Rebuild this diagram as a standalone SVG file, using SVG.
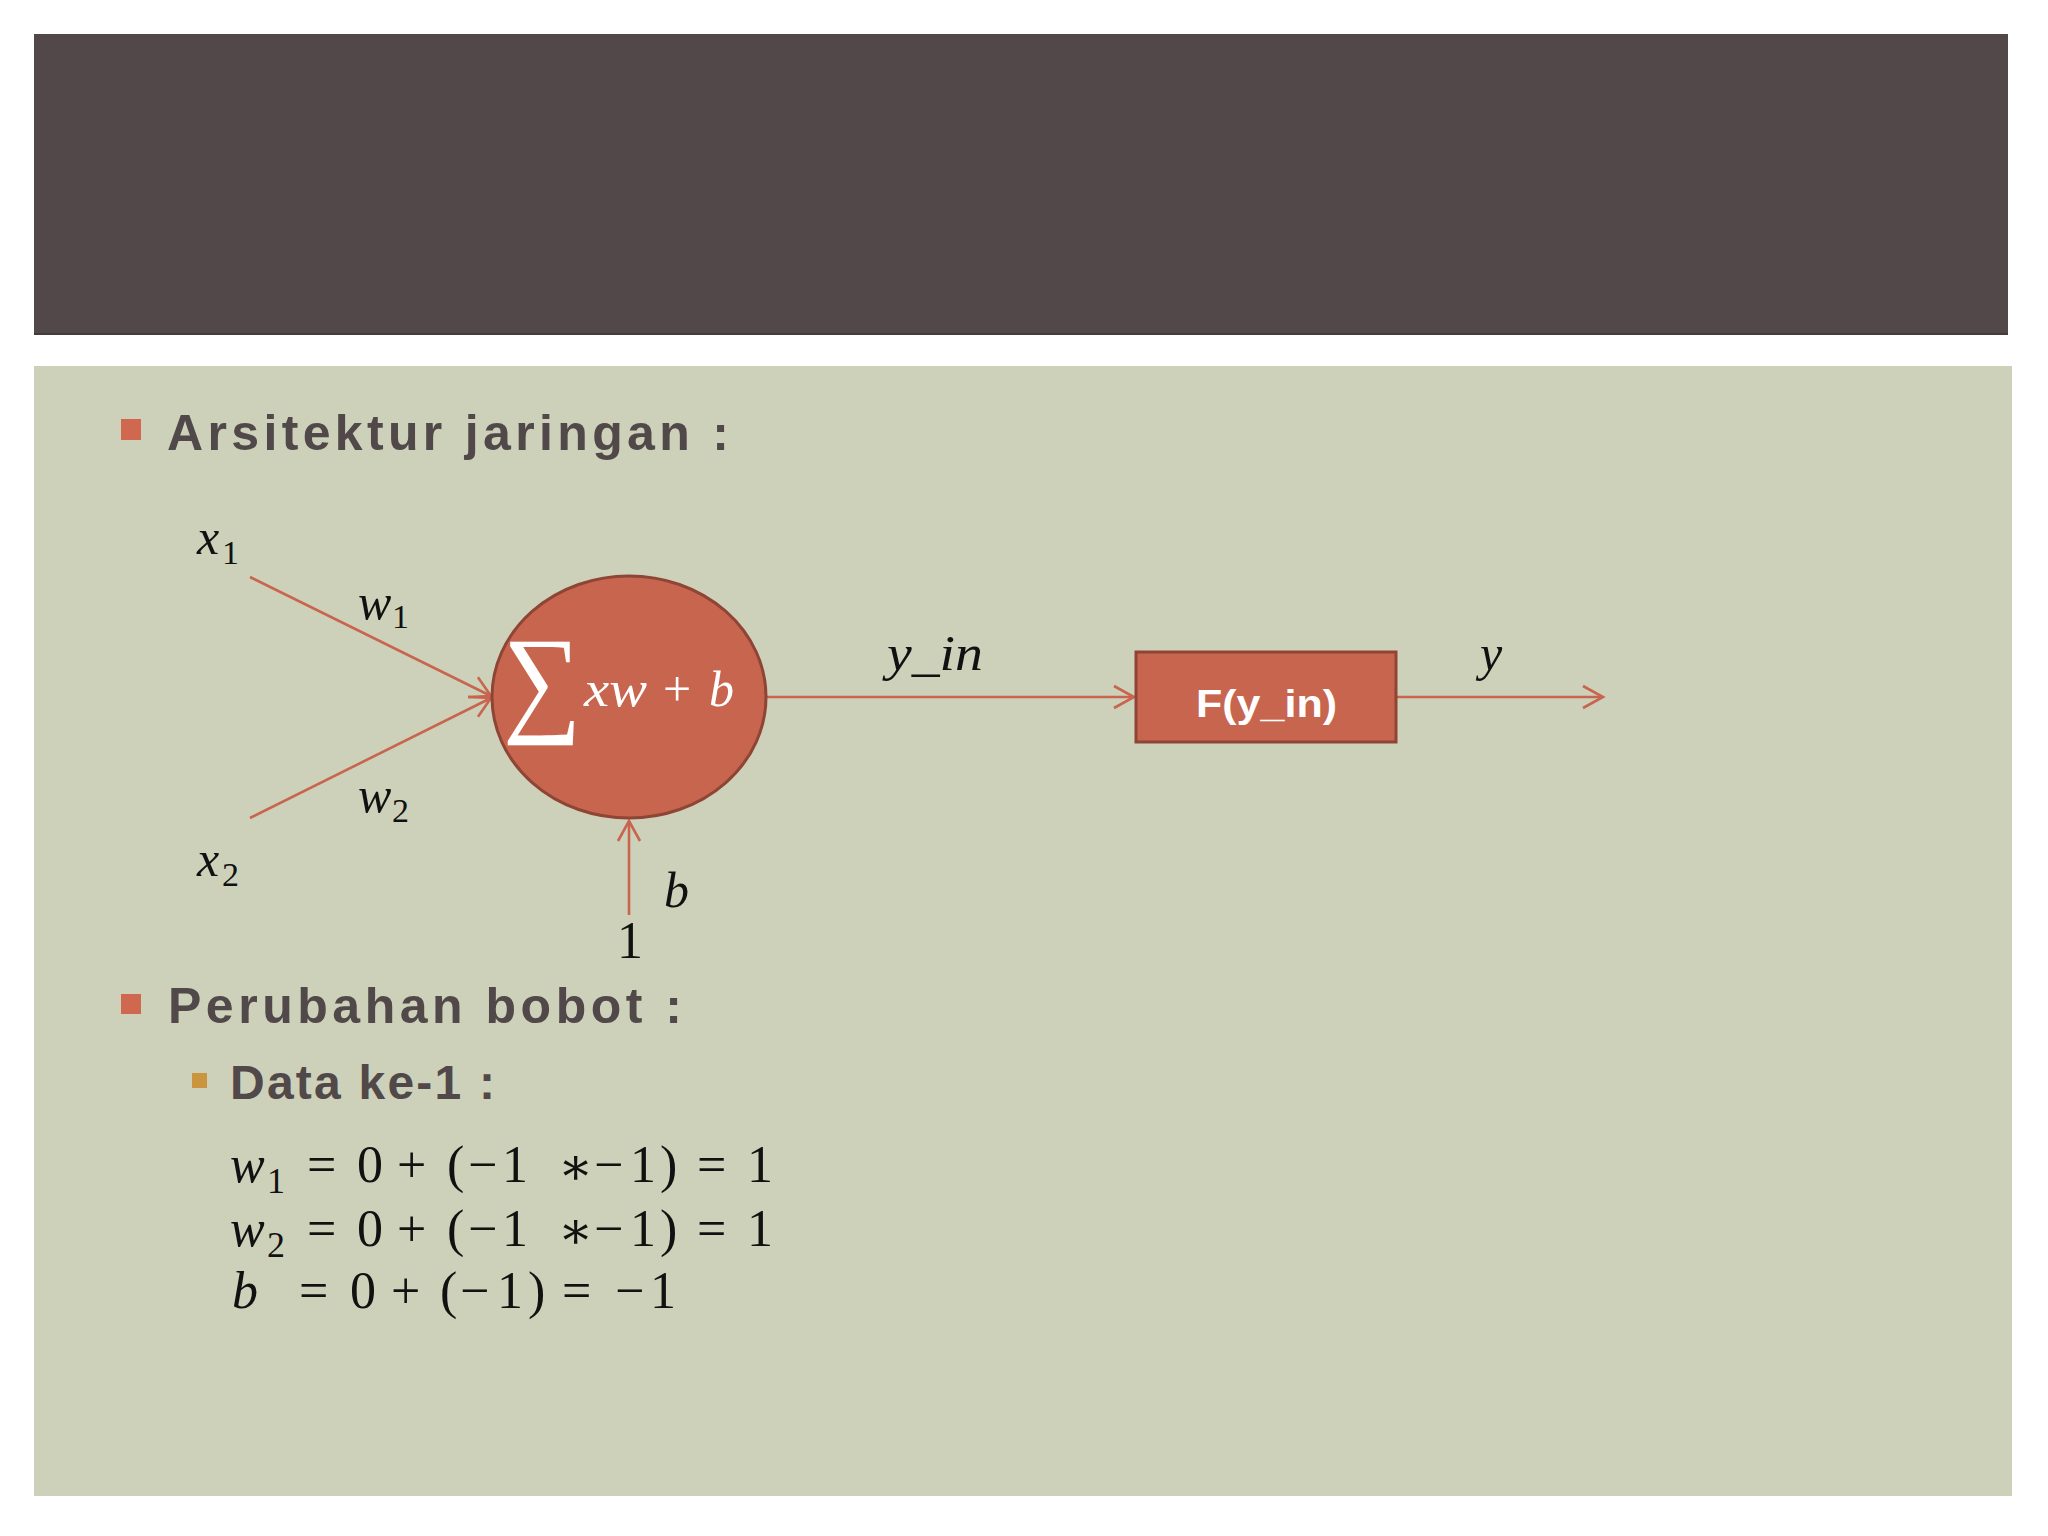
<svg xmlns="http://www.w3.org/2000/svg" width="2048" height="1536" viewBox="0 0 2048 1536">
<style>
.head{font-family:'Liberation Sans Narrow','Liberation Sans',sans-serif;fill:#514849;font-weight:bold}
.m{font-family:'Liberation Serif','DejaVu Serif',serif;fill:#111}
.mi{font-style:italic}
.w{fill:#fff}
.conn{stroke:#C8654F;stroke-width:2.6;fill:none}
</style>
<defs>
<marker id="arr" markerUnits="userSpaceOnUse" markerWidth="26" markerHeight="28" viewBox="-23 -14 26 28" refX="0" refY="0" orient="auto">
<path d="M-20,-11 L0,0 L-20,11" fill="none" stroke="#C8654F" stroke-width="2.6"/>
</marker>
</defs>
<rect x="0" y="0" width="2048" height="1536" fill="#ffffff"/>
<rect x="34" y="34" width="1974" height="301" fill="#524849"/>
<rect x="34" y="333" width="1974" height="2" fill="#443b3c"/>
<rect x="34" y="366" width="1978" height="1130" fill="#CED1B9"/>

<g id="bullet1">
<rect x="121" y="419" width="20" height="21" fill="#D0674F"/>
<text class="head" x="167" y="450" font-size="50" textLength="562" lengthAdjust="spacing">Arsitektur jaringan :</text>
</g>

<g id="connectors">
<line class="conn" x1="250" y1="577" x2="491" y2="696" marker-end="url(#arr)"/>
<line class="conn" x1="250" y1="818" x2="491" y2="698" marker-end="url(#arr)"/>
<line class="conn" x1="629" y1="915" x2="629" y2="821" marker-end="url(#arr)"/>
<line class="conn" x1="767" y1="697" x2="1134" y2="697" marker-end="url(#arr)"/>
<line class="conn" x1="1396" y1="697" x2="1603" y2="697" marker-end="url(#arr)"/>
</g>

<g id="labels">
<text class="m mi" x="197" y="554" font-size="50">x</text>
<text class="m" x="222" y="564" font-size="34">1</text>
<text class="m mi" x="358" y="619" font-size="50">w</text>
<text class="m" x="392" y="628" font-size="34">1</text>
<text class="m mi" x="358" y="812" font-size="50">w</text>
<text class="m" x="392" y="822" font-size="34">2</text>
<text class="m mi" x="197" y="876" font-size="50">x</text>
<text class="m" x="222" y="886" font-size="34">2</text>
<text class="m mi" x="664" y="907" font-size="50">b</text>
<text class="m" x="617" y="958" font-size="52">1</text>
<text class="m mi" x="887" y="670" font-size="50" textLength="96" lengthAdjust="spacingAndGlyphs">y_in</text>
<text class="m mi" x="1480" y="670" font-size="50">y</text>
</g>

<g id="node-sum">
<ellipse cx="629" cy="697" rx="137" ry="121" fill="#C8654F" stroke="#8F4535" stroke-width="3"/>
<text class="m w" x="0" y="0" font-size="120" transform="translate(503 720) scale(0.92 1)">∑</text>
<text class="m w mi" x="584" y="706" font-size="50" textLength="63" lengthAdjust="spacingAndGlyphs">xw</text>
<text class="m w" x="663" y="706" font-size="50">+</text>
<text class="m w mi" x="709" y="706" font-size="50">b</text>
</g>

<g id="node-f">
<rect x="1136" y="652" width="260" height="90" fill="#C8654F" stroke="#8F4535" stroke-width="3"/>
<text x="1196" y="717" font-family="'Liberation Sans Narrow','Liberation Sans',sans-serif" font-weight="bold" font-size="38" fill="#fff" textLength="141" lengthAdjust="spacingAndGlyphs">F(y_in)</text>
</g>

<g id="bullet2">
<rect x="121" y="994" width="20" height="20" fill="#D0674F"/>
<text class="head" x="168" y="1023" font-size="50" textLength="514" lengthAdjust="spacing">Perubahan bobot :</text>
<rect x="192" y="1073" width="15" height="15" fill="#C9953F"/>
<text class="head" x="230" y="1099" font-size="48" textLength="265" lengthAdjust="spacing">Data ke-1 :</text>
</g>

<g id="equations" class="m" font-size="52">
<text class="mi" x="230" y="1182">w</text>
<text x="267" y="1193" font-size="36">1</text>
<text x="307" y="1182">=</text>
<text x="357" y="1182">0</text>
<text x="397" y="1182">+</text>
<text x="447" y="1182">(</text>
<text x="468" y="1182">−</text>
<text x="502" y="1182">1</text>
<text x="558" y="1184">∗</text>
<text x="594" y="1182">−</text>
<text x="630" y="1182">1</text>
<text x="660" y="1182">)</text>
<text x="697" y="1182">=</text>
<text x="747" y="1182">1</text>

<text class="mi" x="230" y="1246">w</text>
<text x="267" y="1257" font-size="36">2</text>
<text x="307" y="1246">=</text>
<text x="357" y="1246">0</text>
<text x="397" y="1246">+</text>
<text x="447" y="1246">(</text>
<text x="468" y="1246">−</text>
<text x="502" y="1246">1</text>
<text x="558" y="1248">∗</text>
<text x="594" y="1246">−</text>
<text x="630" y="1246">1</text>
<text x="660" y="1246">)</text>
<text x="697" y="1246">=</text>
<text x="747" y="1246">1</text>

<text class="mi" x="232" y="1308">b</text>
<text x="299" y="1308">=</text>
<text x="350" y="1308">0</text>
<text x="391" y="1308">+</text>
<text x="440" y="1308">(</text>
<text x="460" y="1308">−</text>
<text x="497" y="1308">1</text>
<text x="528" y="1308">)</text>
<text x="562" y="1308">=</text>
<text x="615" y="1308">−</text>
<text x="650" y="1308">1</text>
</g>
</svg>
